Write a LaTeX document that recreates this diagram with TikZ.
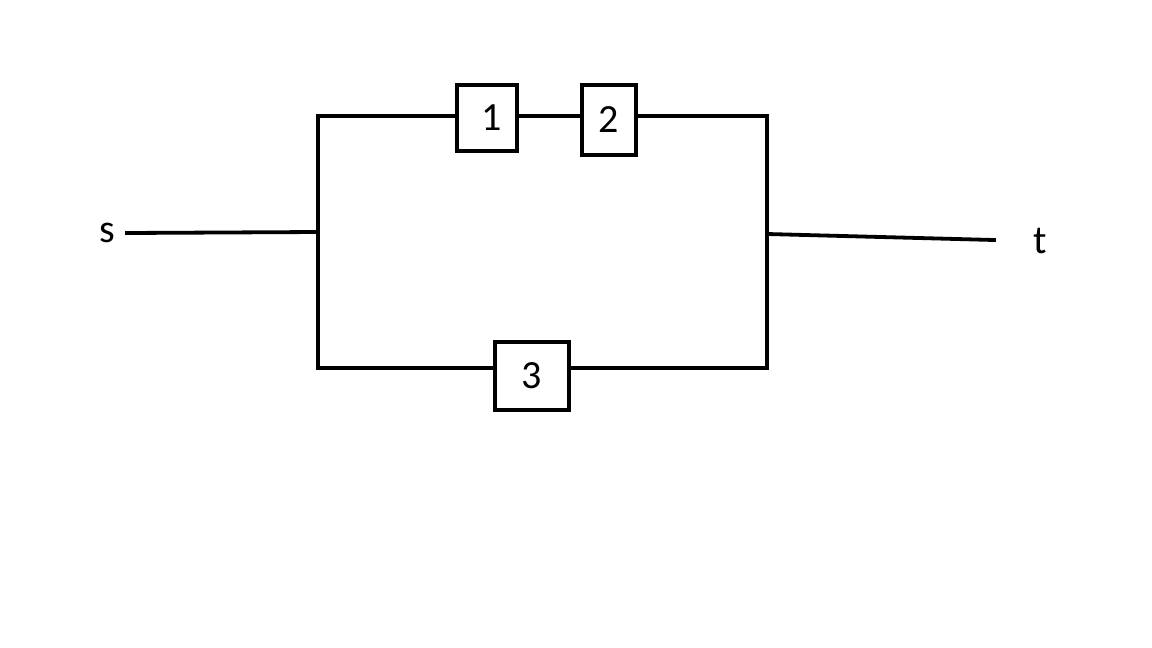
\documentclass[tikz,border=0pt]{standalone}
\usepackage{fontspec}
\setmainfont{Carlito}
\begin{document}
\begin{tikzpicture}[x=1pt,y=-1pt,line width=3.8pt,line cap=rect,
  comp/.style={draw,fill=white,inner sep=0pt,font=\fontsize{40}{40}\selectfont},
  lbl/.style={inner sep=0pt,font=\fontsize{40}{40}\selectfont}]
\useasboundingbox (0,0) rectangle (1152,648);
\coordinate (sl) at (127,233);
\coordinate (lm) at (318,232);
\coordinate (lt) at (318,116);
\coordinate (lb) at (318,368);
\coordinate (rt) at (767,116);
\coordinate (rb) at (767,368);
\coordinate (rm) at (767,234);
\coordinate (tr) at (994,240);
\node[lbl] (s) at (107,233) {s};
\node[lbl] (t) at (1040,241) {t};
\draw (sl) -- (lm);
\draw (lt) -- (lb);
\draw (rt) -- (rb);
\draw (rm) -- (tr);
\draw (lt) -- (rt);
\draw (lb) -- (rb);
\node[comp,minimum width=60pt,minimum height=66pt] (b1) at (487,118) {\hspace*{10pt}1};
\node[comp,minimum width=54pt,minimum height=70pt] (b2) at (609,120) {2};
\node[comp,minimum width=74pt,minimum height=68pt] (b3) at (532,376) {3};
\end{tikzpicture}
\end{document}
